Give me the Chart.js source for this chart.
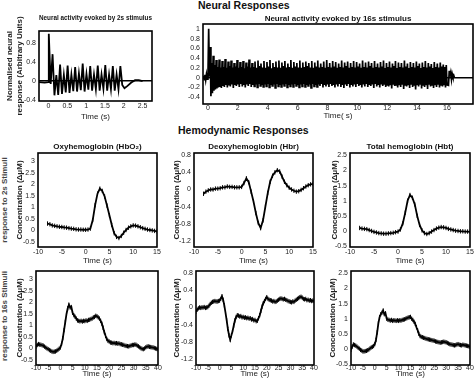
<!DOCTYPE html>
<html>
<head>
<meta charset="utf-8">
<script src="https://cdn.jsdelivr.net/npm/chart.js@4.4.0/dist/chart.umd.min.js"></script>
<style>
  html, body { margin: 0; padding: 0; background: #fff; overflow: hidden; }
  body { width: 474px; height: 381px; position: relative; font-family: 'Liberation Sans', Arial, sans-serif; }
  canvas { position: absolute; }
  .head { position: absolute; font-weight: bold; font-size: 10.5px; line-height: 14px; color: #111; white-space: nowrap; }
  .row { position: absolute; font-family: 'Liberation Sans Narrow', 'Liberation Sans', Arial, sans-serif; font-weight: bold;
         font-size: 8px; color: #444; white-space: nowrap; transform: translate(-50%, -50%) rotate(-90deg); }
</style>
</head>
<body>
<div class="head" style="left:198px; top:-2px">Neural Responses</div>
<div class="head" style="left:178px; top:123px">Hemodynamic Responses</div>
<div class="row" style="left:4px; top:200px">response to 2s Stimuli</div>
<div class="row" style="left:4px; top:316px">response to 16s Stimuli</div>
<canvas id="p1"></canvas>
<canvas id="p2"></canvas>
<canvas id="p3"></canvas>
<canvas id="p4"></canvas>
<canvas id="p5"></canvas>
<canvas id="p6"></canvas>
<canvas id="p7"></canvas>
<canvas id="p8"></canvas>
<script>
// ---- tick labels ----
const neuralYTicks = [-0.4, -0.2, 0, 0.2, 0.4, 0.6, 0.8, 1];
const neural2XTicks = [0, 0.5, 1, 1.5, 2, 2.5];
const neural16XTicks = [0, 2, 4, 6, 8, 10, 12, 14, 16];
const hemo2XTicks = [-10, -5, 0, 5, 10, 15];
const hemo16XTicks = [-10, -5, 0, 5, 10, 15, 20, 25, 30, 35, 40];
const hbo2YTicks = [-0.5, 0, 0.5, 1, 1.5, 2, 2.5, 3];
const hbrYTicks = [-1.2, -1, -0.8, -0.6, -0.4, -0.2, 0, 0.2, 0.4, 0.6, 0.8];
const hbtYTicks = [-0.5, 0, 0.5, 1, 1.5, 2, 2.5];

// ---- neural response, 2 s stimulus ----
const neural2Time = [-0.25, -0.1, 0,
  0.01, 0.06, 0.11, 0.16, 0.21, 0.26, 0.31, 0.36, 0.41, 0.46, 0.51, 0.56, 0.61, 0.66, 0.71, 0.76,
  0.81, 0.86, 0.91, 0.96, 1.01, 1.06, 1.11, 1.16, 1.21, 1.26, 1.31, 1.36, 1.41, 1.46, 1.51, 1.56,
  1.61, 1.66, 1.71, 1.76, 1.81, 1.86, 1.91,
  1.96, 2.02, 2.1, 2.2, 2.3, 2.4, 2.5];
const neural2Value = [-0.02, -0.03, -0.02,
  1.0, -0.06, 0.57, -0.3, 0.13, -0.29, 0.35, -0.27, 0.13, -0.24, 0.33, -0.25, 0.14, -0.21, 0.3, -0.22,
  0.16, -0.19, 0.37, -0.22, 0.15, -0.18, 0.32, -0.2, 0.14, -0.17, 0.33, -0.2, 0.14, -0.16, 0.34, -0.2,
  0.14, -0.17, 0.32, -0.2, 0.14, -0.17, 0.32,
  -0.08, -0.15, -0.1, -0.03, 0.02, 0.02, 0.0];

// ---- neural response, 16 s stimulus (peak / trough of each 0.1 s cycle) ----
const neural16PreTime = [-0.3, -0.25, -0.2, -0.15, -0.1, -0.05, 0];
const neural16PreValue = [0.04, -0.04, 0.06, -0.05, 0.07, -0.03, 0.0];
const neural16Start = 0.05;
const neural16Cycle = 0.1;
const neural16Peaks = [
  1.00, 0.63, 0.30, 0.45, 0.26, 0.36, 0.22, 0.37, 0.21, 0.34,
  0.22, 0.38, 0.20, 0.33, 0.24, 0.35, 0.21, 0.30, 0.23, 0.36,
  0.20, 0.32, 0.22, 0.34, 0.19, 0.31, 0.23, 0.37, 0.21, 0.30,
  0.22, 0.33, 0.20, 0.35, 0.24, 0.29, 0.21, 0.34, 0.20, 0.32,
  0.23, 0.36, 0.19, 0.30, 0.22, 0.33, 0.21, 0.35, 0.20, 0.31,
  0.24, 0.34, 0.21, 0.29, 0.22, 0.36, 0.20, 0.32, 0.23, 0.30,
  0.21, 0.35, 0.20, 0.31, 0.22, 0.33, 0.24, 0.30, 0.21, 0.34,
  0.20, 0.31, 0.23, 0.35, 0.21, 0.29, 0.22, 0.33, 0.20, 0.36,
  0.22, 0.30, 0.21, 0.34, 0.23, 0.32, 0.20, 0.29, 0.22, 0.35,
  0.21, 0.31, 0.24, 0.33, 0.20, 0.30, 0.22, 0.34, 0.21, 0.32,
  0.23, 0.29, 0.20, 0.35, 0.22, 0.31, 0.21, 0.33, 0.24, 0.30,
  0.20, 0.34, 0.22, 0.29, 0.21, 0.32, 0.23, 0.35, 0.20, 0.30,
  0.22, 0.33, 0.21, 0.29, 0.24, 0.34, 0.20, 0.31, 0.22, 0.30,
  0.21, 0.35, 0.23, 0.29, 0.20, 0.32, 0.22, 0.30, 0.21, 0.33,
  0.24, 0.29, 0.20, 0.31, 0.22, 0.34, 0.21, 0.30, 0.23, 0.28,
  0.20, 0.32, 0.22, 0.29, 0.21, 0.31, 0.23, 0.27, 0.22, 0.26];
const neural16Troughs = [
  0.02, -0.38, -0.32, -0.27, -0.24, -0.22, -0.20, -0.19, -0.21, -0.17,
  -0.19, -0.15, -0.20, -0.16, -0.18, -0.14, -0.21, -0.15, -0.17, -0.14,
  -0.19, -0.13, -0.18, -0.15, -0.20, -0.14, -0.17, -0.13, -0.19, -0.15,
  -0.18, -0.14, -0.20, -0.13, -0.17, -0.15, -0.19, -0.14, -0.18, -0.13,
  -0.20, -0.15, -0.17, -0.14, -0.21, -0.13, -0.18, -0.15, -0.19, -0.14,
  -0.17, -0.13, -0.20, -0.15, -0.18, -0.14, -0.19, -0.13, -0.17, -0.15,
  -0.20, -0.14, -0.18, -0.13, -0.19, -0.15, -0.17, -0.14, -0.21, -0.13,
  -0.18, -0.15, -0.19, -0.14, -0.17, -0.13, -0.20, -0.15, -0.18, -0.14,
  -0.19, -0.13, -0.17, -0.15, -0.20, -0.14, -0.18, -0.13, -0.19, -0.15,
  -0.21, -0.14, -0.17, -0.13, -0.20, -0.15, -0.18, -0.14, -0.19, -0.13,
  -0.17, -0.15, -0.20, -0.14, -0.18, -0.13, -0.19, -0.15, -0.17, -0.14,
  -0.21, -0.13, -0.18, -0.15, -0.20, -0.14, -0.17, -0.13, -0.19, -0.15,
  -0.18, -0.14, -0.22, -0.13, -0.17, -0.15, -0.20, -0.14, -0.19, -0.13,
  -0.23, -0.15, -0.18, -0.14, -0.21, -0.13, -0.19, -0.15, -0.24, -0.14,
  -0.18, -0.13, -0.22, -0.15, -0.19, -0.14, -0.23, -0.13, -0.18, -0.15,
  -0.21, -0.14, -0.19, -0.13, -0.20, -0.15, -0.18, -0.14, -0.20, -0.15];
const neural16TailTime = [16.1, 16.15, 16.2, 16.25, 16.3, 16.35, 16.4, 16.45, 16.5];
const neural16TailValue = [-0.16, 0.14, 0.02, 0.1, -0.04, 0.08, 0.02, 0.05, 0.0];

// ---- hemodynamic responses (uM), sampled every 0.5 s ----
const hemoStep = 0.5;
const hemo2Start = -8;
const hbo2Short = [0.30, 0.27, 0.22, 0.20, 0.18, 0.16, 0.15, 0.13, 0.12, 0.10, 0.08, 0.07, 0.05, 0.04, 0.04, 0.03,
  0.03, 0.04, 0.08, 0.45, 1.10, 1.60, 1.82, 1.72, 1.48, 1.08, 0.66, 0.24, -0.12, -0.28, -0.33, -0.24,
  -0.10, 0.02, 0.12, 0.18, 0.22, 0.21, 0.18, 0.14, 0.10, 0.07, 0.04, 0.02, 0.00, -0.02, -0.04];
const hbrShort = [-0.10, -0.05, -0.02, 0.00, 0.00, 0.02, 0.02, 0.03, 0.05, 0.05, 0.07, 0.06, 0.06, 0.05, 0.05, 0.05,
  0.06, 0.15, 0.26, 0.17, -0.05, -0.28, -0.55, -0.78, -0.90, -0.72, -0.40, -0.08, 0.18, 0.32, 0.40, 0.45,
  0.42, 0.30, 0.18, 0.10, 0.04, 0.00, -0.03, -0.05, -0.04, -0.01, 0.03, 0.07, 0.10, 0.12, 0.13];
const hbtShort = [0.10, 0.08, 0.07, 0.06, 0.03, 0.00, -0.03, -0.05, -0.07, -0.08, -0.09, -0.09, -0.08, -0.07, -0.06, -0.04,
  -0.02, 0.05, 0.25, 0.60, 1.00, 1.19, 1.10, 0.88, 0.50, 0.20, 0.02, -0.07, -0.10, -0.07, -0.02, 0.03,
  0.08, 0.11, 0.13, 0.12, 0.10, 0.07, 0.05, 0.03, 0.01, 0.00, -0.01, -0.01, -0.02, -0.02, -0.03];

const hemo16Start = -10;
const hbo2Long = [0.08, 0.15, 0.19, 0.17, 0.16, 0.14, 0.12, 0.08, 0.04, 0.00, -0.03, -0.07, -0.10, -0.13, -0.15, -0.14,
  -0.13, -0.10, -0.06, -0.01, 0.04, 0.20, 0.45, 0.80, 1.15, 1.50, 1.75, 1.90, 1.78, 1.80, 1.55, 1.45,
  1.38, 1.30, 1.22, 1.20, 1.18, 1.20, 1.17, 1.20, 1.19, 1.22, 1.20, 1.24, 1.25, 1.28, 1.30, 1.35,
  1.37, 1.42, 1.40, 1.35, 1.30, 1.20, 1.08, 0.90, 0.71, 0.55, 0.41, 0.33, 0.30, 0.26, 0.25, 0.23,
  0.24, 0.22, 0.23, 0.21, 0.22, 0.19, 0.18, 0.16, 0.15, 0.12, 0.11, 0.10, 0.09, 0.11, 0.13, 0.15,
  0.15, 0.17, 0.16, 0.12, 0.09, 0.05, 0.01, -0.02, -0.03, 0.00, 0.05, 0.08, 0.09, 0.07, 0.06, 0.05,
  0.04, 0.02, 0.00, -0.02, -0.03];
const hbrLong = [-0.10, -0.05, -0.02, 0.00, -0.01, 0.00, 0.00, 0.01, -0.01, 0.00, 0.01, 0.04, 0.08, 0.11, 0.13, 0.14,
  0.15, 0.14, 0.14, 0.15, 0.16, 0.20, 0.26, 0.18, 0.05, -0.12, -0.30, -0.50, -0.65, -0.75, -0.65, -0.55,
  -0.42, -0.30, -0.22, -0.18, -0.19, -0.21, -0.20, -0.23, -0.22, -0.24, -0.23, -0.25, -0.24, -0.26, -0.25, -0.28,
  -0.27, -0.30, -0.29, -0.32, -0.31, -0.25, -0.18, -0.08, 0.02, 0.10, 0.15, 0.20, 0.24, 0.20, 0.18, 0.17,
  0.16, 0.14, 0.15, 0.13, 0.14, 0.16, 0.18, 0.20, 0.21, 0.20, 0.19, 0.20, 0.18, 0.17, 0.15, 0.14,
  0.13, 0.12, 0.14, 0.13, 0.16, 0.18, 0.20, 0.22, 0.24, 0.25, 0.23, 0.20, 0.19, 0.20, 0.17, 0.18,
  0.16, 0.17, 0.15, 0.16, 0.15];
const hbtLong = [-0.03, 0.08, 0.15, 0.13, 0.11, 0.08, 0.04, 0.01, -0.03, -0.05, -0.08, -0.08, -0.07, -0.06, -0.04, -0.02,
  0.02, 0.05, 0.07, 0.10, 0.16, 0.30, 0.55, 0.85, 1.05, 1.15, 1.20, 1.27, 1.15, 1.18, 1.00, 0.97,
  0.96, 0.94, 0.96, 0.93, 0.95, 0.94, 0.93, 0.95, 0.93, 0.95, 0.94, 0.96, 0.97, 0.98, 1.00, 1.02,
  1.04, 1.05, 1.06, 1.00, 0.96, 0.90, 0.83, 0.72, 0.62, 0.50, 0.43, 0.40, 0.39, 0.37, 0.36, 0.34,
  0.33, 0.32, 0.31, 0.30, 0.29, 0.28, 0.27, 0.25, 0.24, 0.23, 0.22, 0.21, 0.22, 0.23, 0.24, 0.23,
  0.22, 0.20, 0.18, 0.16, 0.15, 0.14, 0.13, 0.12, 0.13, 0.15, 0.16, 0.14, 0.13, 0.12, 0.14, 0.13,
  0.12, 0.11, 0.10, 0.09, 0.07];

const FONT = "'Liberation Sans', Arial, sans-serif";
const NARROW = "'Liberation Sans Narrow', 'Liberation Sans', Arial, sans-serif";

// box round the plot area, like the MATLAB axes
const frame = {
  id: 'frame',
  afterDatasetsDraw(chart) {
    const a = chart.chartArea, c = chart.ctx;
    c.save();
    c.strokeStyle = '#000';
    c.lineWidth = 1.6;
    c.strokeRect(a.left, a.top, a.right - a.left, a.bottom - a.top);
    c.restore();
  }
};

function pairs(xs, ys) {
  return ys.map((y, i) => ({ x: xs[i], y: y }));
}
function sampled(start, step, ys) {
  return ys.map((y, i) => ({ x: start + i * step, y: y }));
}

function neural16Points() {
  const pts = pairs(neural16PreTime, neural16PreValue);
  neural16Peaks.forEach((p, i) => {
    const t = neural16Start + i * neural16Cycle;
    pts.push({ x: t, y: p });
    pts.push({ x: t + neural16Cycle / 2, y: neural16Troughs[i] });
  });
  return pts.concat(pairs(neural16TailTime, neural16TailValue));
}

function traceSet(data, width) {
  return { data: data, borderColor: '#000', borderWidth: width, pointRadius: 0, tension: 0 };
}
function hemoSet(data) {
  return {
    data: data, borderColor: '#000', borderWidth: 1.8, tension: 0,
    pointStyle: 'line', pointRotation: 90, pointRadius: 2.2,
    pointBorderWidth: 1, pointBorderColor: '#000', pointBackgroundColor: '#000'
  };
}

function panel(p) {
  const cv = document.getElementById(p.id);
  cv.width = p.w; cv.height = p.h;
  cv.style.left = p.left + 'px'; cv.style.top = p.top + 'px';
  cv.style.width = p.w + 'px'; cv.style.height = p.h + 'px';
  new Chart(cv, {
    type: 'line',
    data: { datasets: p.datasets },
    options: {
      responsive: false,
      animation: false,
      layout: { padding: { left: 0, right: 8, top: p.title ? 0 : p.padTop, bottom: 0 } },
      plugins: {
        legend: { display: false },
        tooltip: { enabled: false },
        title: {
          display: !!p.title, text: p.title, fullSize: false, color: '#111',
          font: { family: NARROW, size: 8, weight: 'bold', lineHeight: 1 },
          padding: { top: p.titleTop || 0, bottom: p.titleGap || 0 }
        }
      },
      scales: {
        x: {
          type: 'linear', min: p.xMin, max: p.xMax,
          afterBuildTicks: s => { s.ticks = p.xTicks.map(v => ({ value: v })); },
          afterFit: s => { s.height = p.xh; },
          grid: { display: false, drawTicks: false },
          border: { display: false },
          ticks: { padding: p.xPad, color: '#222', autoSkip: false, maxRotation: 0,
                   font: { family: FONT, size: 7 }, callback: v => String(v) },
          title: { display: true, text: p.xTitle, color: '#222',
                   font: { family: FONT, size: 8, lineHeight: 1.2 }, padding: { top: 0, bottom: 0 } }
        },
        y: {
          type: 'linear', min: p.yMin, max: p.yMax,
          afterBuildTicks: s => { s.ticks = p.yTicks.map(v => ({ value: v })); },
          afterFit: s => { s.width = p.yw; },
          grid: {
            display: !!p.zero, drawTicks: false, lineWidth: 1.4,
            color: c => (c.tick && c.tick.value === 0) ? '#000' : 'rgba(0,0,0,0)'
          },
          border: { display: false },
          ticks: { padding: 3, color: '#222', font: { family: FONT, size: 7 }, callback: v => String(v) },
          title: {
            display: !!p.yTitle, text: p.yTitle, color: '#222',
            font: { family: FONT, size: 8, weight: 'bold', lineHeight: p.yTitleLH || 1.2 },
            padding: { top: p.yTitlePad || 0, bottom: 0 }
          }
        }
      }
    },
    plugins: [frame]
  });
}

// neural panels
panel({
  id: 'p1', left: 0, top: 10, w: 160, h: 112, yw: 39, xh: 21,
  title: 'Neural activity evoked by 2s stimulus', titleTop: 4, titleGap: 9,
  xMin: -0.25, xMax: 2.75, yMin: -0.42, yMax: 1.06, xTicks: neural2XTicks, yTicks: neuralYTicks,
  xTitle: 'Time (s)', xPad: 1, zero: true,
  yTitle: ['Normalised neural', 'response (Arbitrary Units)'], yTitlePad: 5, yTitleLH: 1.25,
  datasets: [traceSet(pairs(neural2Time, neural2Value), 1.8)]
});
panel({
  id: 'p2', left: 175, top: 11, w: 306, h: 110, yw: 28, xh: 17,
  title: 'Neural activity evoked by 16s stimulus', titleTop: 4, titleGap: 1,
  xMin: -0.33, xMax: 17.74, yMin: -0.54, yMax: 1.1, xTicks: neural16XTicks, yTicks: neuralYTicks,
  xTitle: 'Time( s)', xPad: 0, zero: true,
  datasets: [traceSet(neural16Points(), 1.7)]
});

// hemodynamic, 2 s stimulus
const hbo2Range = [-0.72, 3.37], hbrRange = [-1.34, 0.85], hbtRange = [-0.53, 2.58];
panel({
  id: 'p3', left: 0, top: 140, w: 165, h: 126, yw: 38, xh: 19,
  title: 'Oxyhemoglobin (HbO\u2082)', titleTop: 3, titleGap: 2,
  xMin: -10, xMax: 15, yMin: hbo2Range[0], yMax: hbo2Range[1], xTicks: hemo2XTicks, yTicks: hbo2YTicks,
  xTitle: 'Time (s)', xPad: 1, yTitle: 'Concentration (\u0394\u03bcM)', yTitlePad: 15.2,
  datasets: [hemoSet(sampled(hemo2Start, hemoStep, hbo2Short))]
});
panel({
  id: 'p4', left: 160, top: 140, w: 161, h: 126, yw: 34, xh: 19,
  title: 'Deoxyhemoglobin (Hbr)', titleTop: 3, titleGap: 2,
  xMin: -10, xMax: 15, yMin: hbrRange[0], yMax: hbrRange[1], xTicks: hemo2XTicks, yTicks: hbrYTicks,
  xTitle: 'Time (s)', xPad: 1, yTitle: 'Concentration (\u0394\u03bcM)', yTitlePad: 12.2,
  datasets: [hemoSet(sampled(hemo2Start, hemoStep, hbrShort))]
});
panel({
  id: 'p5', left: 318, top: 140, w: 160, h: 126, yw: 32, xh: 19,
  title: 'Total hemoglobin (Hbt)', titleTop: 3, titleGap: 2,
  xMin: -10, xMax: 15, yMin: hbtRange[0], yMax: hbtRange[1], xTicks: hemo2XTicks, yTicks: hbtYTicks,
  xTitle: 'Time (s)', xPad: 1, yTitle: 'Concentration (\u0394\u03bcM)', yTitlePad: 12.2,
  datasets: [hemoSet(sampled(hemo2Start, hemoStep, hbtShort))]
});

// hemodynamic, 16 s stimulus
panel({
  id: 'p6', left: 0, top: 262, w: 166, h: 117, yw: 36, xh: 14, padTop: 9,
  xMin: -10, xMax: 40, yMin: hbo2Range[0], yMax: hbo2Range[1], xTicks: hemo16XTicks, yTicks: hbo2YTicks,
  xTitle: 'Time (s)', xPad: -1, yTitle: 'Concentration (\u0394\u03bcM)', yTitlePad: 14.7,
  datasets: [hemoSet(sampled(hemo16Start, hemoStep, hbo2Long))]
});
panel({
  id: 'p7', left: 160, top: 262, w: 162, h: 117, yw: 36, xh: 14, padTop: 9,
  xMin: -10, xMax: 40, yMin: hbrRange[0], yMax: hbrRange[1], xTicks: hemo16XTicks, yTicks: hbrYTicks,
  xTitle: 'Time (s)', xPad: -1, yTitle: 'Concentration (\u0394\u03bcM)', yTitlePad: 11.9,
  datasets: [hemoSet(sampled(hemo16Start, hemoStep, hbrLong))]
});
panel({
  id: 'p8', left: 318, top: 262, w: 160, h: 117, yw: 33, xh: 14, padTop: 9,
  xMin: -10, xMax: 40, yMin: hbtRange[0], yMax: hbtRange[1], xTicks: hemo16XTicks, yTicks: hbtYTicks,
  xTitle: 'Time (s)', xPad: -1, yTitle: 'Concentration (\u0394\u03bcM)', yTitlePad: 9.5,
  datasets: [hemoSet(sampled(hemo16Start, hemoStep, hbtLong))]
});
</script>
</body>
</html>
